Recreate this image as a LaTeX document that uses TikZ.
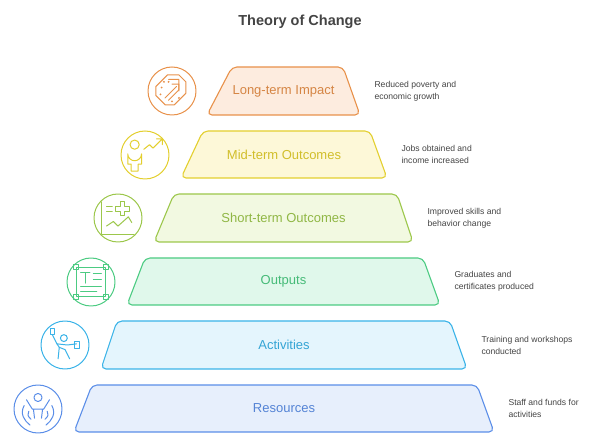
\documentclass[tikz,border=0pt]{standalone}
\usepackage{fontspec}
\setmainfont{Liberation Sans}
\definecolor{cA}{HTML}{E8914A}\definecolor{fA}{HTML}{FDECDF}
\definecolor{cB}{HTML}{E3CF2E}\definecolor{fB}{HTML}{FDF8D8}
\definecolor{cC}{HTML}{9CC74B}\definecolor{fC}{HTML}{F2F9E1}
\definecolor{cD}{HTML}{4CCB82}\definecolor{fD}{HTML}{E0F8EB}
\definecolor{cE}{HTML}{3AB3E8}\definecolor{fE}{HTML}{E4F5FD}
\definecolor{cF}{HTML}{5B8EE8}\definecolor{fF}{HTML}{E7EFFC}
\definecolor{desc}{HTML}{444444}
\begin{document}
\begin{tikzpicture}[x=1pt,y=-1pt,
  layer/.style={line width=1.1pt,rounded corners=5pt},
  ic/.style={line width=1pt,line cap=round,line join=round},
  lbl/.style={font=\fontsize{13}{15}\selectfont},
  dsc/.style={font=\fontsize{8.6}{12}\selectfont,text=desc,align=left,anchor=west}]
\useasboundingbox (0,0) rectangle (600,446);
\node[font=\bfseries\fontsize{14.5}{17}\selectfont,text=desc] (title) at (300,22) {Theory of Change};
\foreach \n/\yt/\yb/\lt/\lb/\rt/\rb/\c/\f/\t/\d in {
 1/67/115/232/207/343/360/cA/fA/Long-term Impact/{Reduced poverty and\\economic growth},
 2/131/178/203/181/370/387/cB/fB/Mid-term Outcomes/{Jobs obtained and\\income increased},
 3/194/242/174/154/397/413/cC/fC/Short-term Outcomes/{Improved skills and\\behavior change},
 4/258/305/145/127/423/440/cD/fD/Outputs/{Graduates and\\certificates produced},
 5/321/369/117/101/450/467/cE/fE/Activities/{Training and workshops\\conducted},
 6/385/432/92/74/477/494/cF/fF/Resources/{Staff and funds for\\activities}}{
  \draw[layer,draw=\c,fill=\f] (\lt,\yt) -- (\rt,\yt) -- (\rb,\yb) -- (\lb,\yb) -- cycle;
  \node[lbl,text=\c!92!black] (L\n) at ({(\lb+\rb)/2},{(\yt+\yb)/2}) {\t};
  \node[dsc] (D\n) at ({\rb+11},{(\yt+\yb)/2}) {\d};
}
\foreach \n/\x/\y/\c in {1/172/91/cA,2/145/155/cB,3/118/218/cC,4/91/282/cD,5/65/345/cE,6/38/409/cF}{
  \draw[ic,draw=\c,fill=white] (\x,\y) circle (24) coordinate (I\n);
}
\begin{scope}[shift={(172,91)},scale=1.15,ic,draw=cA]
 \draw (-14,-4) -- (-4,-14) -- (6,-14) -- (12,-8) -- (12,2) -- (2,12) -- (-6,12) -- (-14,4) -- cycle;
 \draw (-6,6) -- (4,-4) (0,-6) -- (6,-6) -- (6,0);
 \draw (-3,8) -- (6,-1) -- (6,-10) -- (-3,-10);
 \foreach \p in {(-9,-3),(-10,3),(-3,-8),(0,9),(6,6),(-7,-8)} \fill[cA] \p circle (0.9);
\end{scope}
\begin{scope}[shift={(145,155)},scale=1.15,ic,draw=cB]
 \draw (-9,-9) circle (4);
 \draw (-15,8) -- (-15,-1) arc (180:0:6) -- (-3,8) -- (-6,8) -- (-6,14) -- (-12,14) -- (-12,8) -- cycle;
 \draw (-1,-5) -- (4,-9) -- (7,-6) -- (15,-14) (10,-14) -- (15,-14) -- (15,-9);
\end{scope}
\begin{scope}[shift={(118,218)},scale=1.15,ic,draw=cC]
 \draw (-14,-14) -- (-14,14) -- (14,14);
 \draw (-10,-10) -- (-5,-10) (-10,-6) -- (-5,-6);
 \draw (-10,7) -- (-4,3) -- (0,7) -- (9,-1) -- (12,4);
 \draw (2,-14) -- (6,-14) -- (6,-10) -- (10,-10) -- (10,-6) -- (6,-6) -- (6,-2) -- (2,-2) -- (2,-6) -- (-2,-6) -- (-2,-10) -- (2,-10) -- cycle;
\end{scope}
\begin{scope}[shift={(91,282)},scale=1.15,ic,draw=cD]
 \draw (-13,-13) rectangle (13,13);
 \foreach \p in {(-13,-13),(13,-13),(-13,13),(13,13)} \draw \p +(-2,-2) rectangle +(2,2);
 \draw (-9,-8) -- (-1,-8) (-5,-8) -- (-5,1) (2,-7) -- (9,-7) (2,-2) -- (9,-2) (-9,4) -- (9,4) (-9,8) -- (5,8);
\end{scope}
\begin{scope}[shift={(65,345)},scale=1.15,ic,draw=cE]
 \draw (-13,-14) rectangle (-9,-9);
 \draw (-1,-6) circle (3);
 \draw (-11,-9) -- (-7,-1) -- (-5,2) -- (-6,12) (-5,2) -- (0,4) -- (4,12);
 \draw (-7,-1) -- (2,0) -- (10,-1);
 \draw (8,-3) rectangle (13,3);
\end{scope}
\begin{scope}[shift={(38,409)},scale=1.15,ic,draw=cF]
 \draw (0,-10) circle (3.5);
 \draw (-10,-8) -- (-5,0) -- (5,0) -- (10,-8) (-4,0) -- (-3,8) (4,0) -- (3,8);
 \draw (-12,-3) .. controls (-16,4) and (-12,10) .. (-7,14) (-8,2) .. controls (-9,6) .. (-6,9);
 \draw (12,-3) .. controls (16,4) and (12,10) .. (7,14) (8,2) .. controls (9,6) .. (6,9);
\end{scope}
\end{tikzpicture}
\end{document}
